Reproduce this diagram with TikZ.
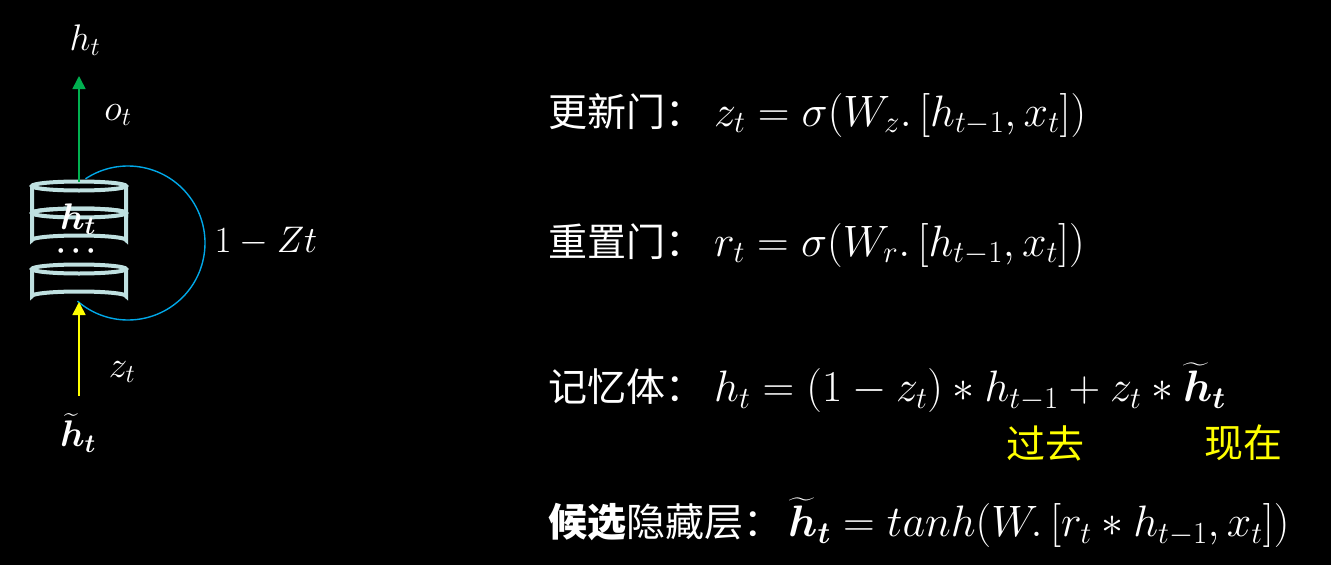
\RequirePackage{fix-cm}
\documentclass[tikz,border=0pt]{standalone}
\usepackage{amsmath,bm}
\usepackage{fontspec}
\newfontfamily\cjk{Noto Sans CJK SC}
\newcommand{\zh}[1]{{\cjk\fontsize{39}{48}\selectfont #1}}
\usetikzlibrary{arrows.meta, calc, positioning}
\definecolor{GateGreen}{HTML}{00B050}
\definecolor{GateYellow}{HTML}{FFFF00}
\definecolor{LoopBlue}{HTML}{00A8E8}
\definecolor{DiscCyan}{HTML}{BFE0E0}

\begin{document}
\begin{tikzpicture}[x = 1pt, y = -1pt]%
    %
    \def\discrx{47}%
    \def\discry{4.5}%
    \def\discheight{27}%
    %
    \tikzstyle{arrow} = [-{Triangle[length = 13pt, width = 13pt]}, line width = 1.6pt]%
    \tikzstyle{disc} = [draw = DiscCyan, line width = 4pt]%
    \tikzstyle{loop} = [draw = LoopBlue, line width = 1.4pt]%
    \tikzstyle{label} = [text = white, font = \fontsize{37}{44}\selectfont, inner sep = 0pt]%
    \tikzstyle{formula} = [text = white, font = \fontsize{44}{50}\selectfont, inner sep = 0pt, anchor = west]%
    \tikzstyle{note} = [text = GateYellow, font = \fontsize{39}{48}\selectfont\cjk, inner sep = 0pt]%
    %
    % Background
    \fill [black] (0, 0) rectangle (1331, 565);%
    \useasboundingbox (0, 0) rectangle (1331, 565);%
    %
    % Discs
    \coordinate (disc1) at (79, 186);%
    \coordinate (disc2) at (79, 213);%
    \coordinate (disc3) at (79, 269);%
    \foreach \c in {disc1, disc2, disc3} {%
        \draw [disc] ($(\c) + (-\discrx, 0)$) -- ++(0, \discheight) arc [start angle = 180, end angle = 0, x radius = \discrx, y radius = -\discry] -- ++(0, -\discheight);%
        \draw [disc] (\c) ellipse [x radius = \discrx, y radius = \discry];%
    }%
    \node (hidden) [label] at (78, 219) {$\boldsymbol{h_t}$};%
    \node (dots) [label, font = \fontsize{30}{36}\selectfont] at (79, 251) {$\boldsymbol{\cdots}$};%
    %
    \coordinate (top) at (79, 182);%
    \coordinate (bottom) at (79, 302);%
    \coordinate (out) at (79, 76);%
    \coordinate (in) at (79, 396);%
    %
    % Self loop
    \coordinate (centre) at (128, 243);%
    \draw [loop] ($(centre) + (-123.5:77)$) arc [start angle = -123.5, end angle = 131, radius = 77];%
    \node (keep) [label] at (266, 241) {$1 - Zt$};%
    %
    % Output and update arrows
    \draw [arrow, GateGreen] (top) -- (out);%
    \draw [arrow, GateYellow] (in) -- (bottom);%
    \node (output) [label] at (85, 40) {$h_t$};%
    \node (gateo) [label] at (118, 115) {$o_t$};%
    \node (gatez) [label] at (122, 372) {$z_t$};%
    \node (candidate) [label] at (78, 433) {$\widetilde{\boldsymbol{h}}_{\boldsymbol{t}}$};%
    %
    % Equations
    \node (update) [formula] at (548, 115) {\zh{更新门：}\hspace{10pt}$z_t = \sigma(W_z.\,[h_{t-1}, x_t])$};%
    \node (reset) [formula] at (548, 245) {\zh{重置门：}\hspace{10pt}$r_t = \sigma(W_r.\,[h_{t-1}, x_t])$};%
    \node (memory) [formula] at (548, 388) {\zh{记忆体：}\hspace{10pt}$h_t = (1 - z_t) * h_{t-1} + z_t * \widetilde{\boldsymbol{h}}_{\boldsymbol{t}}$};%
    \node (past) [note] at (1045, 443) {过去};%
    \node (now) [note] at (1243, 443) {现在};%
    \node (hiddenlayer) [formula] at (548, 523) {\zh{\bfseries 候选}\zh{隐藏层：}\hspace{6pt}$\widetilde{\boldsymbol{h}}_{\boldsymbol{t}} = tanh(W.\,[r_t * h_{t-1}, x_t])$};%
    %
\end{tikzpicture}
\end{document}
